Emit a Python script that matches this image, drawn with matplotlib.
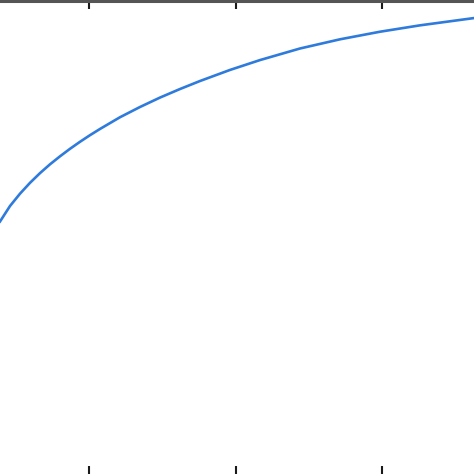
import matplotlib
matplotlib.use('Agg')
import matplotlib.pyplot as plt

# curve (x in tick units, y in arbitrary units)
x_vals = [0.389, 0.457, 0.526, 0.594, 0.662, 0.730, 0.799, 0.867, 0.935, 1.003,
          1.072, 1.208, 1.345, 1.481, 1.618, 1.754, 1.959, 2.164, 2.437, 2.710,
          2.983, 3.256, 3.625]
y_vals = [253, 268.5, 281, 291.8, 301.5, 310.3, 318.4, 325.9, 332.9, 339.5,
          345.8, 357.5, 367.8, 377.2, 385.8, 393.8, 404.9, 414.8, 426.4, 435.6,
          443.2, 449.6, 456.9]
x_ticks = [1, 2, 3]

fig = plt.figure(figsize=(4.74, 4.74), dpi=100)
ax = fig.add_axes([0, 0, 1, 1 - 1.0 / 474])
ax.plot(x_vals, y_vals, color='#2f7bdc', lw=1.9, solid_joinstyle='round')

ax.set_xlim(0.389, 3.625)
ax.set_ylim(0, 474)
ax.set_xticks(x_ticks)
ax.set_yticks([])
ax.tick_params(axis='x', which='both', direction='in', top=True, bottom=True,
               labelbottom=False, labeltop=False, length=5.5, width=1.5, color='#1a1a1a')

for side in ['left', 'right', 'bottom']:
    ax.spines[side].set_visible(False)
ax.spines['top'].set_color('#555555')
ax.spines['top'].set_linewidth(2.2)

fig.savefig('out.png', dpi=100)
